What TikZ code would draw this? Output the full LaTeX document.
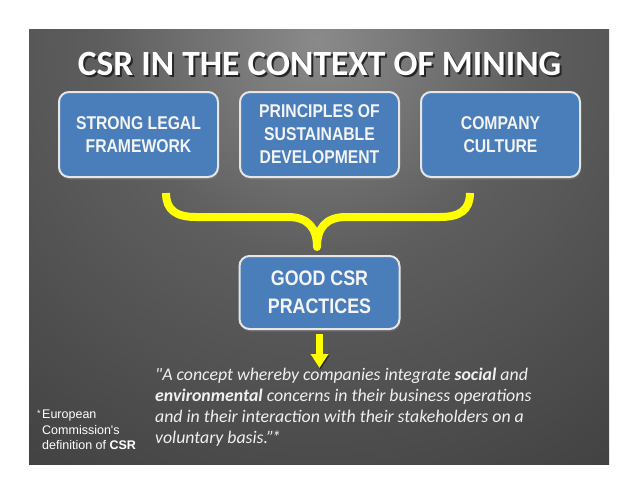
\documentclass[tikz,border=0pt]{standalone}
\usepackage{fontspec}
\setmainfont{Carlito}
\newfontfamily\boxfont[FakeStretch=0.85]{Liberation Sans}
\newfontfamily\notefont{Liberation Sans}
\usepackage{xcolor}
\usetikzlibrary{arrows.meta, positioning, shadows}

\definecolor{glowin}{HTML}{8A8A8A}
\definecolor{glowmid}{HTML}{5E5E5E}
\definecolor{glowout}{HTML}{262626}
\definecolor{boxblue}{HTML}{4A7EBB}
\definecolor{boxedge}{HTML}{E6E6E6}
\definecolor{boxtext}{HTML}{F4F4F4}
\definecolor{braceyellow}{HTML}{FFFF00}
\definecolor{quotetext}{HTML}{F0F0F0}
\definecolor{titleshade}{HTML}{262626}

\pgfdeclareradialshading{slideglow}{\pgfpoint{0bp}{0bp}}{color(0bp)=(glowin); color(9bp)=(glowmid); color(34bp)=(glowout); color(50bp)=(glowout)}

\newcommand\titletext{CSR IN THE CONTEXT OF MINING}

\begin{document}
\begin{tikzpicture}[
    x=1pt, y=-1pt,
    node distance=20pt,
    box/.style={rectangle, draw=boxedge, line width=2pt, fill=boxblue, rounded corners=10pt, minimum width=159pt, minimum height=85pt, align=center, text=boxtext, font=\boxfont\bfseries\fontsize{18.5}{23}\selectfont, drop shadow={shadow xshift=1pt, shadow yshift=-2.5pt, opacity=.45}},
    heading/.style={font=\bfseries\fontsize{35.5}{40}\selectfont, anchor=base, inner sep=0pt},
    brace/.style={line width=8pt, draw=braceyellow, line join=round, preaction={draw=black, opacity=.55, transform canvas={shift={(1.5pt,-2pt)}}}},
    arrow/.style={-{Triangle[width=17pt,length=14pt]}, line width=7pt, draw=braceyellow, shorten <=4pt, preaction={draw=black, opacity=.55, transform canvas={shift={(1pt,-1.5pt)}}}},
    note/.style={font=\notefont\fontsize{12.5}{15.5}\selectfont, align=left, text=white, inner sep=0pt}
]
\useasboundingbox (0,0) rectangle (638,493);
\fill[white] (0,0) rectangle (638,493);

% Slide background
\begin{scope}
    \clip (29,29) rectangle (609,464);
    \shade[shading=slideglow] (319,40) circle[radius=600];
\end{scope}

% Title (with drop shadow)
\node[heading] (title) at (319.5,75) {\rlap{\kern2pt\raisebox{-2.5pt}{\color{titleshade}\titletext}}\color{white}\titletext};

% Three pillars
\node[box] (legal) at (138.5,134.5) {STRONG LEGAL\\FRAMEWORK};
\node[box, right=of legal] (principles) {PRINCIPLES OF\\SUSTAINABLE\\DEVELOPMENT};
\node[box, right=of principles] (culture) {COMPANY\\CULTURE};

% Result
\node[box, minimum width=160pt, minimum height=73pt, font=\boxfont\bfseries\fontsize{21}{28}\selectfont, below=77pt of principles] (good) {GOOD CSR\\PRACTICES};

% Definition
\node[anchor=north west, inner sep=0pt, align=left, text=quotetext, font=\itshape\fontsize{17.8}{20.8}\selectfont] (quote) at (155,368) {\textquotedbl A concept whereby companies integrate \textbf{social} and\\\textbf{environmental} concerns in their business operations\\and in their interaction with their stakeholders on a\\voluntary basis.”\kern-2.5pt*};
\node[note, anchor=north west] (source) at (42,410) {\llap{\raisebox{2.5pt}{\fontsize{9}{9}\selectfont*}\hspace{1.5pt}}European\\Commission's\\definition of \textbf{CSR}};

% Brace
\coordinate (braceL) at (166,193);
\coordinate (braceR) at (470,193);
\coordinate (braceTip) at (317,247);
\draw[brace] (braceL) .. controls (166,210) and (176,217) .. (196,217) -- (288,217)
    .. controls (308,217) and (317,228) .. (braceTip)
    .. controls (317,228) and (326,217) .. (346,217) -- (440,217)
    .. controls (460,217) and (470,210) .. (braceR);

% Arrow
\draw[arrow] (good.south) -- (good.south |- quote.north);
\end{tikzpicture}
\end{document}
